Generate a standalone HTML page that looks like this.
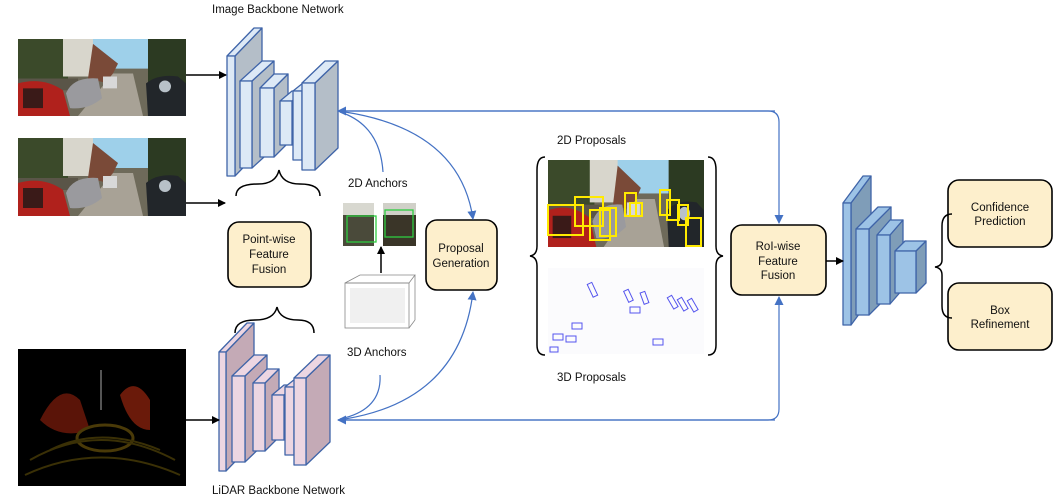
<!DOCTYPE html>
<html><head><meta charset="utf-8"><style>
html,body{margin:0;padding:0;background:#fff;}
svg{display:block;}
text{font-family:"Liberation Sans","DejaVu Sans",sans-serif;font-size:11.5px;fill:#111;}
</style></head><body>
<svg id="s" width="1059" height="502" viewBox="0 0 1059 502" xmlns="http://www.w3.org/2000/svg">
<defs>
<marker id="ab" markerWidth="8" markerHeight="8" refX="7" refY="4" orient="auto" markerUnits="userSpaceOnUse"><path d="M0,0 L8,4 L0,8 z" fill="#000"/></marker>
<marker id="au" markerWidth="9" markerHeight="9" refX="8" refY="4.5" orient="auto" markerUnits="userSpaceOnUse"><path d="M0,0 L9,4.5 L0,9 z" fill="#4472c4"/></marker>
<symbol id="street" viewBox="0 0 168 78" preserveAspectRatio="none">
<rect width="168" height="78" fill="#6e6a5a"/>
<rect x="70" y="0" width="60" height="30" fill="#9ed0ea"/>
<rect x="0" y="0" width="50" height="45" fill="#3b4a2a"/>
<rect x="45" y="0" width="30" height="38" fill="#d8d6cc"/>
<polygon points="75,5 100,25 90,45 70,40" fill="#7a4a38"/>
<rect x="130" y="0" width="38" height="55" fill="#2c3a22"/>
<polygon points="60,78 95,35 115,35 125,78" fill="#a8a296"/>
<rect x="0" y="40" width="60" height="12" fill="#5a5548"/>
<path d="M0,45 Q25,38 45,52 L52,78 L0,78z" fill="#b0211c"/>
<rect x="5" y="50" width="20" height="20" fill="#3a1a18"/>
<path d="M48,55 Q55,38 80,40 L84,60 Q70,72 52,70z" fill="#9a9a9e"/>
<rect x="85" y="38" width="14" height="12" fill="#d8d8d8"/>
<path d="M128,45 Q140,35 160,38 L168,45 L168,78 L130,78z" fill="#22262a"/>
<circle cx="147" cy="48" r="6" fill="#dfe8f0" opacity=".8"/>
</symbol>
</defs>

<!-- photos -->
<use href="#street" x="18" y="39" width="168" height="77"/>
<use href="#street" x="18" y="138" width="168" height="78"/>
<rect x="18" y="349" width="168" height="137" fill="#000"/>
<path d="M40,420 Q60,380 80,400 L90,430 Q60,440 40,420z" fill="#5a1408"/>
<path d="M120,395 Q135,375 150,400 L150,430 Q130,430 120,395z" fill="#6a1a0a"/>
<ellipse cx="105" cy="438" rx="28" ry="13" fill="#000" stroke="#4a3a08" stroke-width="3"/>
<path d="M30,460 Q100,420 175,460 M25,475 Q100,440 180,475 M50,450 Q100,425 160,450" stroke="#3a3006" stroke-width="2" fill="none"/>
<line x1="101" y1="370" x2="101" y2="410" stroke="#aaa" stroke-width="1"/>

<g id="nets"></g>

<!-- braces under image/above lidar -->
<path d="M236,196 Q236,184 258,184 Q276,184 279,170 Q282,184 300,184 Q320,184 320,196" fill="none" stroke="#000" stroke-width="1.5"/>
<path d="M235,333 Q235,320 255,320 Q274,320 277,307 Q280,320 298,320 Q314,320 314,333" fill="none" stroke="#000" stroke-width="1.5"/>

<!-- boxes -->
<g stroke="#000" stroke-width="1.6" fill="#fdefcc">
<rect x="228" y="222" width="83" height="65" rx="11"/>
<rect x="426" y="220" width="71" height="70" rx="11"/>
<rect x="731" y="225" width="95" height="70" rx="11"/>
<rect x="948" y="180" width="104" height="67" rx="11"/>
<rect x="948" y="283" width="104" height="67" rx="11"/>
</g>
<g text-anchor="middle">
<text x="269" y="243">Point-wise</text><text x="269" y="258">Feature</text><text x="269" y="273">Fusion</text>
<text x="461" y="252">Proposal</text><text x="461" y="267">Generation</text>
<text x="778" y="250">RoI-wise</text><text x="778" y="265">Feature</text><text x="778" y="279">Fusion</text>
<text x="1000" y="211">Confidence</text><text x="1000" y="225">Prediction</text>
<text x="1000" y="314">Box</text><text x="1000" y="328">Refinement</text>
</g>
<text x="212" y="13">Image Backbone Network</text>
<text x="212" y="494">LiDAR Backbone Network</text>
<text x="348" y="187">2D Anchors</text>
<text x="347" y="356">3D Anchors</text>
<text x="557" y="144">2D Proposals</text>
<text x="557" y="381">3D Proposals</text>

<!-- anchors images -->
<rect x="343" y="203" width="31" height="43" fill="#4a4a3a"/><rect x="343" y="203" width="31" height="12" fill="#d8d8d0"/>
<rect x="383" y="203" width="33" height="43" fill="#3a3528"/><rect x="383" y="203" width="33" height="12" fill="#d0d0c8"/>
<rect x="347" y="216" width="29" height="26" fill="none" stroke="#2ecc40" stroke-width="1.3"/>
<rect x="385" y="210" width="28" height="27" fill="none" stroke="#2ecc40" stroke-width="1.3"/>
<g fill="none" stroke="#888" stroke-width=".8"><rect x="345" y="283" width="64" height="45"/><polygon points="345,283 360,275 415,275 409,283"/><line x1="409" y1="328" x2="415" y2="320"/><line x1="415" y1="275" x2="415" y2="320"/></g>
<rect x="350" y="288" width="55" height="35" fill="#f0f0f0"/>

<!-- proposals -->
<use href="#street" x="548" y="160" width="156" height="87"/>
<g fill="none" stroke="#ffea00" stroke-width="2">
<rect x="548" y="205" width="35" height="30"/><rect x="575" y="197" width="28" height="29"/><rect x="590" y="210" width="20" height="30"/><rect x="600" y="208" width="16" height="28"/>
<rect x="625" y="193" width="11" height="23"/><rect x="630" y="203" width="12" height="13"/><rect x="660" y="190" width="10" height="25"/><rect x="667" y="200" width="12" height="20"/><rect x="678" y="205" width="10" height="20"/><rect x="686" y="218" width="15" height="28"/>
</g>
<rect x="548" y="268" width="156" height="86" fill="#fbfbfd"/>
<g fill="none" stroke="#5555ee" stroke-width="1">
<rect x="590" y="283" width="5" height="14" transform="rotate(-25 592 290)"/><rect x="626" y="290" width="5" height="12" transform="rotate(-25 628 296)"/><rect x="642" y="292" width="5" height="12" transform="rotate(-20 644 298)"/>
<rect x="630" y="307" width="10" height="6"/><rect x="670" y="296" width="5" height="13" transform="rotate(-30 672 302)"/><rect x="680" y="298" width="5" height="13" transform="rotate(-30 682 304)"/><rect x="690" y="299" width="5" height="13" transform="rotate(-30 692 305)"/>
<rect x="572" y="323" width="10" height="6"/><rect x="553" y="334" width="10" height="6"/><rect x="566" y="336" width="10" height="6"/><rect x="550" y="347" width="8" height="5"/><rect x="653" y="339" width="10" height="6"/>
</g>
<path d="M545,157 Q537,157 537,170 L537,246 Q537,255 530,256 Q537,257 537,266 L537,345 Q537,355 545,355" fill="none" stroke="#000" stroke-width="1.5"/>
<path d="M708,157 Q716,157 716,170 L716,246 Q716,255 723,256 Q716,257 716,266 L716,345 Q716,355 708,355" fill="none" stroke="#000" stroke-width="1.5"/>
<path d="M952,214 Q942,214 942,226 L942,260 Q942,266 935,267 Q942,268 942,275 L942,306 Q942,318 952,318" fill="none" stroke="#000" stroke-width="1.5"/>

<!-- black arrows -->
<g stroke="#000" stroke-width="1.5" fill="none">
<line x1="186" y1="75" x2="226" y2="75" marker-end="url(#ab)"/>
<line x1="186" y1="203" x2="225" y2="203" marker-end="url(#ab)"/>
<line x1="186" y1="420" x2="219" y2="420" marker-end="url(#ab)"/>
<line x1="381" y1="273" x2="381" y2="247" marker-end="url(#ab)"/>
<line x1="826" y1="261" x2="843" y2="261" marker-end="url(#ab)"/>
</g>
<!-- blue connectors -->
<g stroke="#4472c4" stroke-width="1.2" fill="none">
<path d="M338,111 L768,111 Q779,111 779,122 L779,223" marker-end="url(#au)"/>
<path d="M775,111 L338,111" marker-end="url(#au)"/>
<path d="M345,112 Q460,130 473,219" marker-end="url(#au)"/>
<path d="M383,172 Q380,125 340,112"/>
<path d="M338,420 L768,420 Q779,420 779,409 L779,297" marker-end="url(#au)"/>
<path d="M775,420 L338,420" marker-end="url(#au)"/>
<path d="M345,419 Q460,400 473,292" marker-end="url(#au)"/>
<path d="M380,375 Q382,410 340,419"/>
</g>
</svg>
<script>
function slab(g,x,y,w,h,dx,dy,f,s){
 var n="http://www.w3.org/2000/svg";
 var a=[[x+w,y,x+w+dx,y-dy,x+w+dx,y+h-dy,x+w,y+h,s],[x,y,x+dx,y-dy,x+w+dx,y-dy,x+w,y,f],[x,y,x+w,y,x+w,y+h,x,y+h,f]];
 a.forEach(function(p){var e=document.createElementNS(n,"polygon");e.setAttribute("points",p.slice(0,8).join(" "));e.setAttribute("fill",p[8]);e.setAttribute("stroke","#3f64a8");e.setAttribute("stroke-width","1.3");e.setAttribute("stroke-linejoin","round");g.appendChild(e);});
}
var g=document.getElementById("nets");
var F="#dde9f6",S="#b4bec8";
slab(g,227,56,8,120,27,28,F,S);slab(g,240,81,12,87,22,20,F,S);slab(g,260,88,14,69,14,14,F,S);slab(g,280,101,12,44,12,10,F,S);slab(g,293,91,9,69,10,8,F,S);slab(g,302,83,13,87,23,22,F,S);
F="#ecd6e2";S="#c4aab6";
slab(g,219,352,7,119,28,29,F,S);slab(g,232,376,13,86,22,21,F,S);slab(g,253,383,12,68,14,14,F,S);slab(g,272,395,12,45,12,10,F,S);slab(g,285,387,9,68,10,8,F,S);slab(g,294,378,12,87,24,23,F,S);
F="#9dc3e6";S="#7f9db8";
slab(g,843,203,8,122,20,27,F,S);slab(g,856,229,13,86,22,22,F,S);slab(g,877,235,13,69,13,15,F,S);slab(g,895,251,21,42,10,10,F,S);
</script>
</body></html>
